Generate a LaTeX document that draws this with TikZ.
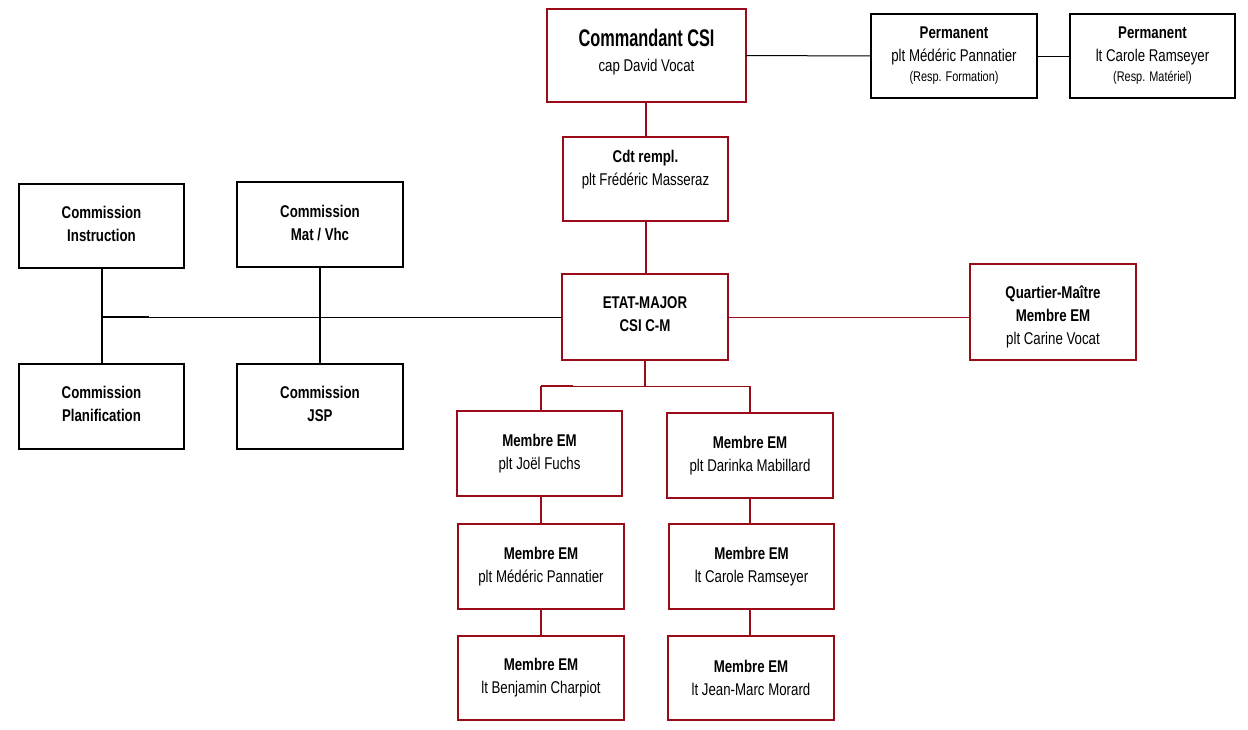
\documentclass[tikz,border=0pt]{standalone}
\usepackage{fontspec}
\setmainfont{Liberation Sans}[FakeStretch=0.78]
\newfontfamily\condfont{Liberation Sans}[FakeStretch=0.68]
\definecolor{cred}{RGB}{155,10,25}
\tikzset{
  box/.style={draw, line width=2pt, inner sep=0pt, outer sep=0pt, align=center,
    font=\fontsize{17}{23}\selectfont, text=black},
  redbox/.style={box, draw=cred},
  blackbox/.style={box, draw=black},
  redline/.style={draw=cred, line width=2pt},
  thinred/.style={draw=cred, line width=1pt},
  blackline/.style={draw=black, line width=2pt},
  thinblack/.style={draw=black, line width=1pt},
}
\begin{document}
\begin{tikzpicture}[x=1pt,y=-1pt]
\fill[white] (0,0) rectangle (1248,729);
\useasboundingbox (0,0) rectangle (1248,729);
% top row
\node[redbox, minimum width=199, minimum height=93] (cmd) at (646.5,55.5)
  {{\condfont\fontsize{24}{24}\selectfont\bfseries Commandant CSI}\\[1.5pt]cap David Vocat\\[-13pt]\mbox{}};
\node[blackbox, minimum width=166, minimum height=84] (p1) at (954,56)
  {\textbf{Permanent}\\plt Médéric Pannatier\\[-3pt]{\fontsize{14}{16}\selectfont (Resp. Formation)}};
\node[blackbox, minimum width=165, minimum height=84] (p2) at (1152.5,56)
  {\textbf{Permanent}\\lt Carole Ramseyer\\[-3pt]{\fontsize{14}{16}\selectfont (Resp. Matériel)}};
% middle
\node[redbox, minimum width=165, minimum height=84] (cdt) at (645.5,179)
  {\textbf{Cdt rempl.}\\plt Frédéric Masseraz\\\mbox{}};
\node[redbox, minimum width=166, minimum height=86] (etat) at (645,317)
  {\textbf{ETAT-MAJOR}\\\textbf{CSI C-M}\\[-17pt]\mbox{}};
\node[redbox, minimum width=166, minimum height=96] (qm) at (1053,312)
  {\mbox{}\\\textbf{Quartier-Maître}\\\textbf{Membre EM}\\plt Carine Vocat};
% commissions
\node[blackbox, minimum width=165, minimum height=84] (ci) at (101.5,226)
  {\textbf{Commission}\\\textbf{Instruction}\\[-19pt]\mbox{}};
\node[blackbox, minimum width=166, minimum height=85] (cm) at (320,224.5)
  {\textbf{Commission}\\\textbf{Mat / Vhc}\\[-19pt]\mbox{}};
\node[blackbox, minimum width=165, minimum height=85] (cp) at (101.5,406.5)
  {\textbf{Commission}\\\textbf{Planification}\\[-17pt]\mbox{}};
\node[blackbox, minimum width=166, minimum height=85] (cj) at (320,406.5)
  {\textbf{Commission}\\\textbf{JSP}\\[-17pt]\mbox{}};
% members
\node[redbox, minimum width=165, minimum height=85] (m1) at (539.5,453.5)
  {\textbf{Membre EM}\\plt Joël Fuchs};
\node[redbox, minimum width=166, minimum height=85] (m2) at (750,455.5)
  {\textbf{Membre EM}\\plt Darinka Mabillard};
\node[redbox, minimum width=166, minimum height=85] (m3) at (541,566.5)
  {\textbf{Membre EM}\\plt Médéric Pannatier};
\node[redbox, minimum width=165, minimum height=85] (m4) at (751.5,566.5)
  {\textbf{Membre EM}\\lt Carole Ramseyer};
\node[redbox, minimum width=166, minimum height=84] (m5) at (541,678)
  {\textbf{Membre EM}\\lt Benjamin Charpiot};
\node[redbox, minimum width=166, minimum height=84] (m6) at (751,678)
  {\textbf{Membre EM}\\lt Jean-Marc Morard};
\coordinate (junc) at (645,386);
\coordinate (lj) at (541,386);
\coordinate (rj) at (750,386);
% connectors top
\draw[thinblack] (cmd.east) -- (p1.west);
\draw[thinblack] (p1.east) -- (p2.west);
\draw[redline] (cmd.south -| cdt.north) -- (cdt.north);
\draw[redline] (cdt.south) -- (cdt.south |- etat.north);
\draw[thinred] (etat.east) -- (qm.west |- etat.east);
% commissions
\draw[thinblack] (etat.west) -- (ci.south |- etat.west);
\draw[blackline] (ci.south |- etat.west) -- ++(47,0);
\draw[blackline] (ci.south) -- (cp.north);
\draw[blackline] (cm.south) -- (cj.north);
% tree below etat
\draw[redline] (etat.south) -- (junc);
\draw[thinred] (lj) -- (rj);
\draw[redline] (lj) -- ++(32,0);
\draw[redline] (lj) -- (lj |- m1.north);
\draw[redline] (rj) -- (m2.north);
\draw[redline] (m1.south -| lj) -- (m3.north -| lj);
\draw[redline] (m3.south -| lj) -- (m5.north -| lj);
\draw[redline] (m2.south) -- (m2.south |- m4.north);
\draw[redline] (m4.south -| m2.south) -- (m6.north -| m2.south);
\end{tikzpicture}
\end{document}
